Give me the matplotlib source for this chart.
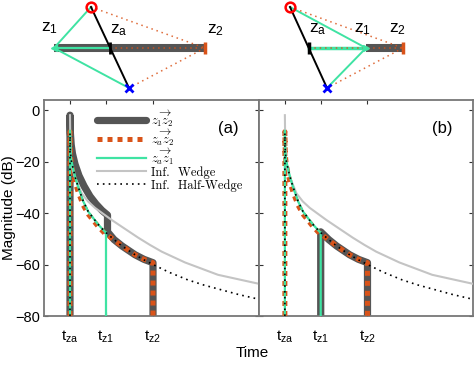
import numpy as np
import matplotlib.pyplot as plt
from matplotlib.font_manager import FontProperties

plt.rcParams['font.family'] = ['Liberation Sans', 'DejaVu Sans']
plt.rcParams['mathtext.fontset'] = 'cm'

# ---------------- colours ----------------
c_dark = '#555555'
c_orange = '#d95319'
c_green = '#3fe3a3'
c_light = '#c4c4c4'

# ---------------- time axis (arbitrary units) ----------------
t_ticks = [26, 62, 109]
t_labels = [r'$\mathregular{t_{za}}$', r'$\mathregular{t_{z1}}$', r'$\mathregular{t_{z2}}$']
y_ticks = [0, -20, -40, -60, -80]

# ---------------- read-off curves ----------------
# infinite wedge (same in both panels)
wedge_t = [26, 26.3, 27, 28.5, 31, 37.7, 44, 51, 67.7, 77.7, 94.3, 106, 117.7, 141, 174, 215]
wedge_db = [-2, -12, -19, -23, -26, -32.4, -35.5, -38, -42.7, -45.3, -49.6, -52.4, -55, -59.2, -64, -67.5]

# infinite half-wedge
half_t = [26, 26, 26.4, 27.2, 29.3, 31.5, 34.3, 39.3, 44.3, 54.3, 61, 70, 78, 91, 100, 109,
          125, 144, 160, 177, 195, 215]
half_db = [-80, -9, -16, -19.5, -23, -26.5, -30, -35.5, -39.5, -44.5, -47.3, -50.3, -52.8, -56.2,
           -58.2, -60, -63, -66, -68, -69.8, -71.7, -73.5]

# z_a -> z_1
za1_t = [26, 26, 26.4, 27.2, 29.3, 31.5, 34.3, 39.3, 44.3, 54.3, 61, 62, 62]
za1_db = [-80, -8, -16, -19.5, -23, -26.5, -30, -35.5, -39.5, -44.5, -47.3, -47.5, -80]

# z_a -> z_2
za2_t = [26, 26, 26.4, 27.3, 29.3, 31.5, 34.3, 39.3, 44.3, 54.3, 61, 63, 70, 78, 91, 100, 109, 109]
za2_db = [-80, -8.4, -17, -21, -25, -28.5, -32, -37, -40.5, -45.3, -48, -48.3, -50.5, -52.8,
          -56.2, -58, -59.3, -80]

# z_1 -> z_2, panel (a)
z12a_t = [26, 26, 26.4, 27.2, 28.5, 31, 35, 40, 46, 52, 58, 63.5, 63.5, 70, 78, 91, 100, 109, 109]
z12a_db = [-80, -2, -9, -13.5, -17, -21, -25.5, -29.5, -33.5, -36.5, -39, -40.8, -47.3, -50.3,
           -52.8, -56.2, -58, -59.3, -80]

# z_1 -> z_2, panel (b)
z12b_t = [62, 62, 70, 78, 91, 100, 109, 109]
z12b_db = [-80, -47.3, -50.3, -52.8, -56.2, -58, -59.3, -80]

# ---------------- geometry sketches (pixel coords) ----------------
src_a, rcv_a = (91, 7), (129, 88)
z1_a, za_a, z2_a = (54, 48), (110, 48), (205, 48)
src_b, rcv_b = (290, 7), (327, 88)
za_b, z1_b, z2_b = (309, 48), (366, 48), (403, 48)

fig = plt.figure(figsize=(4.74, 3.83), dpi=100)
W, H = 474, 383

ax_a = fig.add_axes([44 / W, 1 - 316 / H, 215 / W, 216 / H])
ax_b = fig.add_axes([259 / W, 1 - 316 / H, 214 / W, 216 / H])


def draw_panel(ax, gray_t, gray_db):
    ax.plot(gray_t, gray_db, color=c_dark, lw=5.2, solid_joinstyle='round',
            solid_capstyle='round', label=r'$\overrightarrow{z_1 z_2}$', zorder=2)
    ax.plot(za2_t, za2_db, color=c_orange, lw=3.6, ls=(0, (1, 1)), dash_capstyle='butt',
            label=r'$\overrightarrow{z_a z_2}$', zorder=3)
    ax.plot(za1_t, za1_db, color=c_green, lw=1.6, label=r'$\overrightarrow{z_a z_1}$', zorder=4)
    ax.plot(wedge_t, wedge_db, color=c_light, lw=1.5, label='Inf.  Wedge', zorder=3.5)
    ax.plot(half_t, half_db, color='black', lw=1.2, ls=(0, (1, 2.5)),
            label='Inf.  Half-Wedge', zorder=5)
    ax.set_xlim(0, 215)
    ax.set_ylim(-80, 3.9)
    ax.set_xticks(t_ticks)
    ax.set_xticklabels(t_labels, fontsize=11)
    ax.set_yticks(y_ticks)
    ax.tick_params(direction='in', length=3, top=True, right=True, width=0.8,
                   colors='#333333', labelcolor='black')
    ax.tick_params(axis='x', pad=9)
    ax.tick_params(axis='y', pad=3, labelsize=10.5)
    for s in ax.spines.values():
        s.set_color('#777777')
        s.set_linewidth(1.3)


draw_panel(ax_a, z12a_t, z12a_db)
draw_panel(ax_b, z12b_t, z12b_db)
ax_b.set_yticklabels([])
ax_a.set_ylabel('Magnitude (dB)', fontsize=11, va='center')
ax_a.yaxis.set_label_coords((9 - 44) / 215, 0.5)
ax_a.text(0.856, 0.87, '(a)', transform=ax_a.transAxes, fontsize=12, ha='center', va='center')
ax_b.text(0.855, 0.87, '(b)', transform=ax_b.transAxes, fontsize=12, ha='center', va='center')
fig.text(252 / W, 1 - 353 / H, 'Time', fontsize=11, ha='center', va='center')

leg = ax_a.legend(loc='upper left', bbox_to_anchor=((97 - 44) / 215, (316 - 109) / 216),
                  frameon=False, handlelength=3.9, labelspacing=-0.1, handletextpad=0.4,
                  handleheight=1.2, borderaxespad=0, borderpad=0,
                  prop=FontProperties(family='cmr10', size=9, math_fontfamily='cm'))

# ---------------- sketches ----------------
ax_g = fig.add_axes([0, 1 - 95 / H, 1, 95 / H])
ax_g.set_xlim(0, W)
ax_g.set_ylim(95, 0)
ax_g.axis('off')


def seg(p, q, **kw):
    ax_g.plot([p[0], q[0]], [p[1], q[1]], **kw)


dot_kw = dict(color=c_orange, lw=1.1, ls=(0, (1, 2.5)), alpha=0.85)
# panel (a) geometry
seg(z1_a, z2_a, color=c_dark, lw=5.8, solid_capstyle='butt')
seg(z1_a, za_a, color=c_green, lw=1.6)
seg(za_a, z2_a, **dot_kw)
seg(src_a, z1_a, color=c_green, lw=1.4)
seg(z1_a, rcv_a, color=c_green, lw=1.4)
seg(src_a, z2_a, **dot_kw)
seg(z2_a, rcv_a, **dot_kw)
seg(src_a, rcv_a, color='black', lw=1.4)
ax_g.plot(*za_a, marker='|', ms=8, mew=2, color='black')
ax_g.plot(*z1_a, marker='<', ms=5, color=c_green)
ax_g.plot(*z2_a, marker='|', ms=8, mew=2.5, color=c_orange)

# panel (b) geometry
seg(z1_b, z2_b, color=c_dark, lw=5.8, solid_capstyle='butt')
seg(za_b, z1_b, color=c_green, lw=2.5)
seg(za_b, z2_b, **dot_kw)
seg(src_b, z1_b, color=c_green, lw=1.4)
seg(z1_b, rcv_b, color=c_green, lw=1.4)
seg(src_b, z2_b, **dot_kw)
seg(z2_b, rcv_b, **dot_kw)
seg(src_b, rcv_b, color='black', lw=1.4)
ax_g.plot(*za_b, marker='|', ms=8, mew=2.5, color='black')
ax_g.plot(*z1_b, marker='>', ms=5, color=c_green)
ax_g.plot(*z2_b, marker='|', ms=8, mew=2.5, color=c_orange)

for s, r in [(src_a, rcv_a), (src_b, rcv_b)]:
    ax_g.plot(*s, marker='o', ms=7, mew=1.8, mfc='none', color='#ff0000')
    ax_g.plot(*r, marker='x', ms=6, mew=2, color='#0000ff')

for txt, pos in [(r'$\mathregular{z_1}$', (50, 28)), (r'$\mathregular{z_a}$', (119, 30)),
                 (r'$\mathregular{z_2}$', (215, 30)), (r'$\mathregular{z_a}$', (318, 29)),
                 (r'$\mathregular{z_1}$', (363, 29)), (r'$\mathregular{z_2}$', (397, 29))]:
    ax_g.text(pos[0], pos[1], txt, fontsize=12.5, ha='center', va='center')

fig.savefig('out.png', dpi=100)
